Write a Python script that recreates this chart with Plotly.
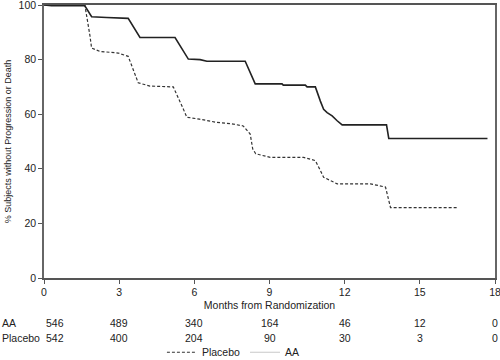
import plotly.graph_objects as go

# Kaplan-Meier style curves
aa_months = [0, 0.3, 1.63, 1.9, 2.5, 3.36, 3.83, 5.23, 5.76, 6.23, 6.5, 8.03, 8.43, 9.5, 9.55, 10.43, 10.5, 10.83,
             11.03, 11.16, 11.3, 11.5, 11.7, 11.9, 13.67, 13.76, 17.7]
aa_pct = [100, 99.7, 99.7, 95.7, 95.4, 95.1, 88.1, 88.1, 80.2, 80.0, 79.4, 79.4, 71.1, 71.1, 70.65, 70.65, 70.0, 70.0,
          64.8, 61.8, 60.6, 59.4, 57.6, 56.1, 56.1, 51.1, 51.1]

pl_months = [0, 1.63, 1.83, 1.9, 2.23, 2.96, 3.36, 3.76, 4.23, 5.16, 5.56, 5.7, 6.2, 6.9, 7.55, 7.95, 8.23, 8.33,
             8.45, 9.03, 10.36, 10.83, 11.03, 11.16, 11.7, 13.03, 13.63, 13.83, 16.55]
pl_pct = [100, 100, 89, 84.2, 83, 82.4, 81.2, 71.5, 70.3, 70, 61.9, 58.9, 58.2, 57, 56.4, 55.7, 52.7, 47.3,
          45.5, 44.2, 44.2, 43.0, 39.4, 36.9, 34.5, 34.5, 33.3, 25.8, 25.8]

# number at risk table
risk_months = [0, 3, 6, 9, 12, 15, 18]
aa_at_risk = [546, 489, 340, 164, 46, 12, 0]
pl_at_risk = [542, 400, 204, 90, 30, 3, 0]

x_ticks = [0, 3, 6, 9, 12, 15, 18]
y_ticks = [0, 20, 40, 60, 80, 100]

FONT = "Liberation Sans, Arial, sans-serif"
TXT = "#222222"
FS = 10.5

fig = go.Figure()
fig.add_trace(go.Scatter(x=pl_months, y=pl_pct, mode="lines", name="Placebo",
                         line=dict(color="#333333", width=1.2, dash="3px,2px")))
fig.add_trace(go.Scatter(x=aa_months, y=aa_pct, mode="lines", name="AA", showlegend=False,
                         line=dict(color="#222222", width=1.6)))
# legend entry as drawn in the reference (light grey line)
fig.add_trace(go.Scatter(x=[None], y=[None], mode="lines", name="AA",
                         line=dict(color="#c8c8c8", width=1.2)))

annotations = []
row_y = {"AA": -0.165, "Placebo": -0.221}
for name, vals in (("AA", aa_at_risk), ("Placebo", pl_at_risk)):
    annotations.append(dict(x=-0.0976, y=row_y[name], xref="paper", yref="paper", text=name,
                            showarrow=False, xanchor="left", yanchor="middle",
                            font=dict(family=FONT, size=FS, color=TXT)))
    for m, v in zip(risk_months, vals):
        annotations.append(dict(x=m, y=row_y[name], xref="x", yref="paper", text=str(v),
                                showarrow=False, xanchor="left" if m == risk_months[0] else "center",
                                yanchor="middle",
                                font=dict(family=FONT, size=FS, color=TXT)))

fig.update_layout(
    width=500, height=360,
    margin=dict(l=44, r=5, t=5, b=82, autoexpand=False),
    paper_bgcolor="white", plot_bgcolor="white",
    font=dict(family=FONT, size=FS, color=TXT),
    showlegend=True,
    legend=dict(orientation="h", x=0.42, y=-0.272, xanchor="center", yanchor="middle",
                font=dict(family=FONT, size=FS, color=TXT), itemwidth=30,
                bgcolor="rgba(0,0,0,0)", tracegroupgap=0),
    annotations=annotations,
)
fig.update_xaxes(range=[0, 18], tickvals=x_ticks, ticks="outside", ticklen=4, tickcolor="#555555",
                 showline=True, linecolor="#555555", linewidth=1.5, mirror=True, showgrid=False, zeroline=False,
                 automargin=False, ticklabeloverflow="allow",
                 title=dict(text="Months from Randomization", standoff=4,
                            font=dict(family=FONT, size=FS, color=TXT)),
                 tickfont=dict(family=FONT, size=FS, color=TXT))
fig.update_yaxes(range=[0, 100], tickvals=y_ticks, ticks="outside", ticklen=4, tickcolor="#555555",
                 showline=True, linecolor="#666666", linewidth=1.5, mirror=True, showgrid=False, zeroline=False,
                 automargin=False, ticklabeloverflow="allow",
                 title=dict(text="% Subjects without Progression or Death", standoff=5,
                            font=dict(family=FONT, size=9, color=TXT)),
                 tickfont=dict(family=FONT, size=FS, color=TXT))

fig.write_html("out.html", config={"displayModeBar": False},
               post_script="document.body.style.margin='0';")
